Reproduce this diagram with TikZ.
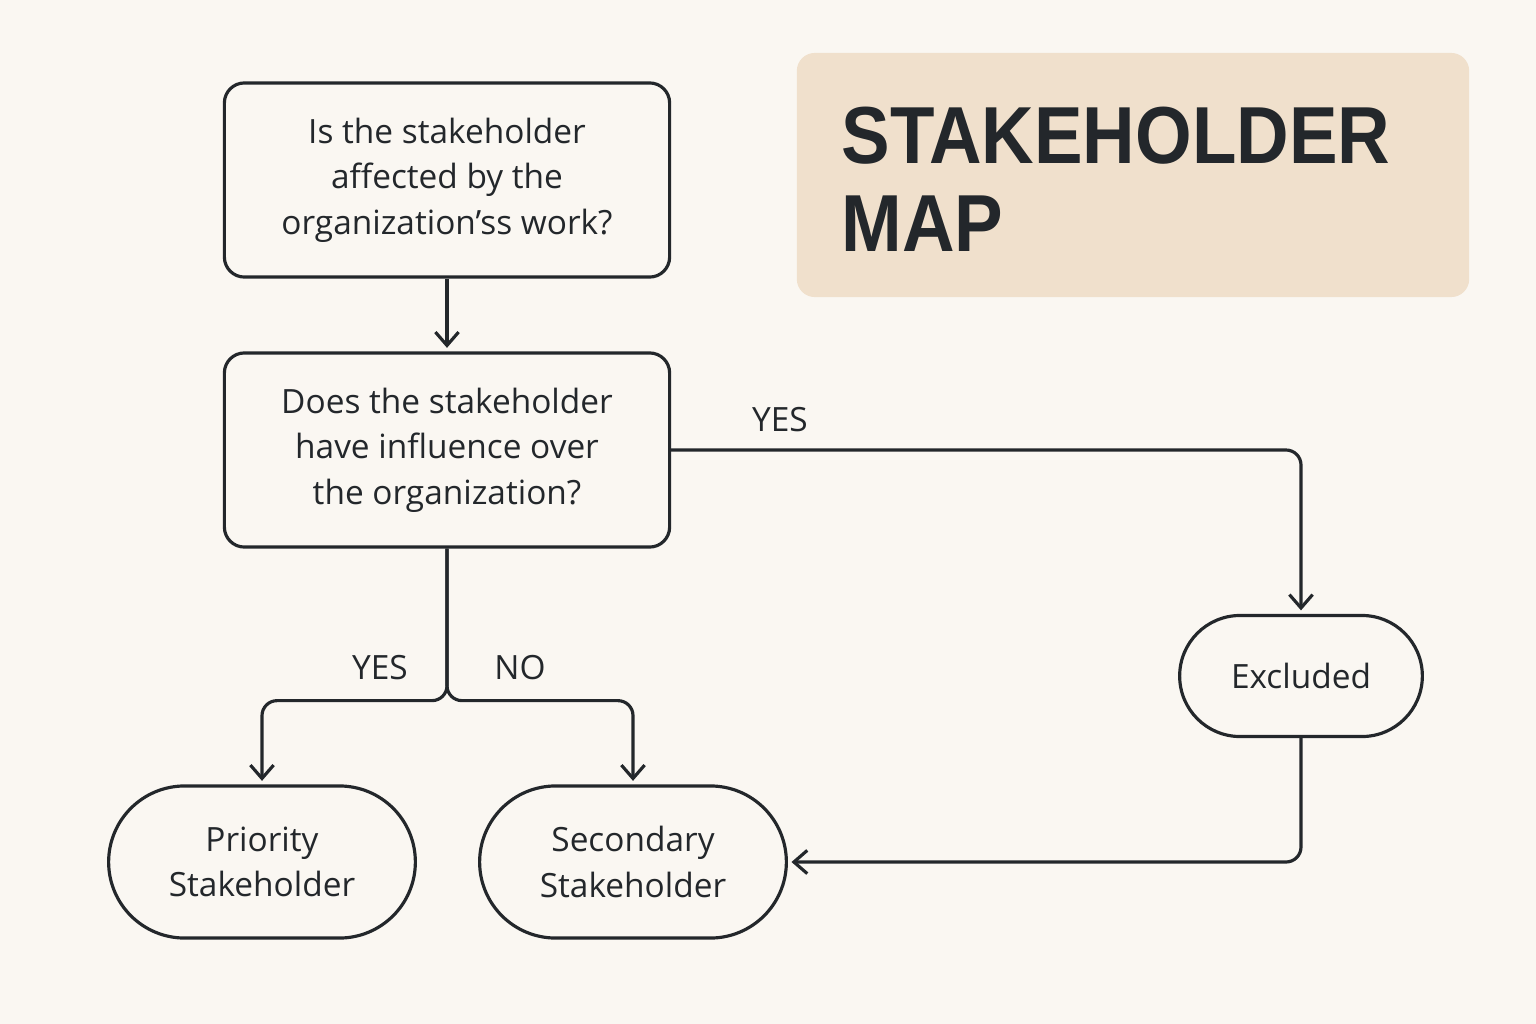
\documentclass[tikz,border=0pt]{standalone}
\usepackage{fontspec}
\setmainfont{Open Sans}
\newfontfamily\titlefont{Liberation Sans}
\usetikzlibrary{arrows.meta, shapes.misc}

\definecolor{paper}{HTML}{FAF7F2}
\definecolor{sand}{HTML}{F0E0CC}
\definecolor{ink}{HTML}{23272B}

\begin{document}
\begin{tikzpicture}[x=0.01cm, y=-0.01cm, line width=0.9pt, color=ink,
  >={Straight Barb[length=3.8pt, width=6.6pt]},
  body/.style={font=\fontsize{9.5}{12.9}\selectfont},
  question/.style={body, draw, rounded corners=0.2cm, minimum width=4.45cm, minimum height=1.94cm, align=center},
  outcome/.style={body, draw, rounded rectangle, align=center},
  flow/.style={->, rounded corners=0.15cm, shorten >=1pt}]

% page and title card
\fill[paper] (0,0) rectangle (1536,1024);
\node (card) at (1133,175) [fill=sand, rounded corners=0.18cm, minimum width=6.72cm, minimum height=2.44cm] {};
\node (ttla) at (840,163) [anchor=base west, inner sep=0pt, font=\titlefont\bfseries\fontsize{23}{25}\selectfont] {\scalebox{0.9}[1]{STAKEHOLDER}};
\node (ttlb) at (840,251) [anchor=base west, inner sep=0pt, font=\titlefont\bfseries\fontsize{23}{25}\selectfont] {\scalebox{0.9}[1]{MAP}};

% the two questions
\node (q1) at (447,180) [question] {Is the stakeholder\\affected by the\\organization’ss work?};
\node (q2) at (447,450) [question] {Does the stakeholder\\have influence over\\the organization?};

% the three outcomes
\node (exc) at (1301,676) [outcome, minimum width=2.66cm, minimum height=1.21cm] {Excluded};
\node (pri) at (262,862) [outcome, minimum width=3.3cm, minimum height=1.52cm] {Priority\\Stakeholder};
\node (sec) at (633,862) [outcome, minimum width=3.3cm, minimum height=1.52cm] {Secondary\\Stakeholder};

% connectors
\draw[flow] (q1) -- (q2);
\draw[flow] (q2.east) -| (exc.north);
\draw[flow] (q2.south) -- ++(0,152) -| (pri.north);
\draw[flow] (q2.south) -- ++(0,152) -| (sec.north);
\draw[flow] (exc.south) |- (sec.east);

% answer labels
\node (yesa) at (780,420) [body] {YES};
\node (yesb) at (380,668) [body] {YES};
\node (no) at (520,668) [body] {NO};

\end{tikzpicture}
\end{document}
